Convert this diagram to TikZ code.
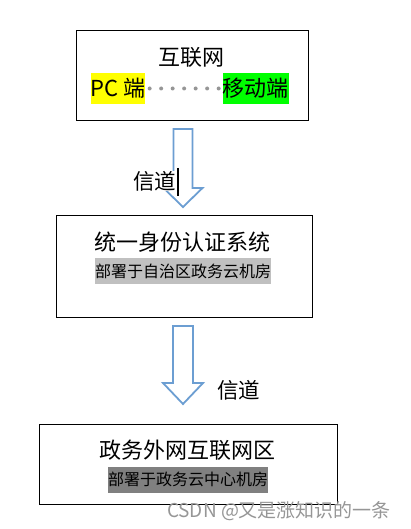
\documentclass[tikz,border=0pt]{standalone}
\usepackage{fontspec}
\setmainfont{Noto Sans CJK SC}
\usetikzlibrary{calc}
\definecolor{arrowblue}{RGB}{108,158,210}
\definecolor{hlgray}{RGB}{192,192,192}
\definecolor{hldark}{RGB}{128,128,128}
\definecolor{hlyellow}{RGB}{255,255,0}
\definecolor{hlgreen}{RGB}{0,255,0}
\definecolor{dotgray}{RGB}{150,150,150}
\definecolor{wmgray}{RGB}{150,150,150}
\begin{document}
\begin{tikzpicture}[x=1pt,y=-1pt,
  frame/.style={draw=black,line width=1pt,inner sep=0pt,fill=none},
  titletext/.style={font=\fontsize{22}{26}\selectfont,inner sep=0pt},
  hlsmall/.style={font=\fontsize{16}{19}\selectfont,inner xsep=0pt,inner ysep=0pt,minimum height=26pt},
  hlbig/.style={font=\fontsize{22}{26}\selectfont,inner xsep=0pt,inner ysep=0pt,minimum height=31pt},
  blockarrow/.style={draw=arrowblue,line width=1.8pt,fill=white,line join=miter},
  chanlabel/.style={font=\fontsize{21.5}{25}\selectfont,inner sep=0pt,fill=white},
  watermark/.style={font=\fontsize{19}{22}\selectfont,inner sep=0pt,text=wmgray},
  dotmark/.style={fill=dotgray}]
\useasboundingbox[fill=white] (0,0) rectangle (410,529);
% boxes
\node[frame,minimum width=232pt,minimum height=90pt] (net) at (192,76) {};
\node[frame,minimum width=256pt,minimum height=102pt] (auth) at (184,266) {};
\node[frame,minimum width=298pt,minimum height=80pt] (ext) at (188,464) {};
% box 1 content
\node[titletext] (nettitle) at (191,57) {互联网};
\node[hlbig,fill=hlyellow] (pc) at (118,88.5) {PC 端};
\node[hlbig,fill=hlgreen] (mob) at (255.5,88.5) {移动端};
\foreach \i in {0,...,6}
  \fill[dotmark] ($(pc.east)!{4pt+\i*11.5pt}!(mob.west)$) circle (2pt);
% box 2 content
\node[titletext] (authtitle) at (182,242) {统一身份认证系统};
\node[hlsmall,fill=hlgray] (authsub) at (183,271) {部署于自治区政务云机房};
% box 3 content
\node[titletext] (exttitle) at (187,450) {政务外网互联网区};
\node[hlsmall,fill=hldark] (extsub) at (188,479.5) {部署于政务云中心机房};
% arrows
\draw[blockarrow] (173.5,129) -- (192.5,129) -- (192.5,188) -- (202.5,188) -- (183,207) -- (163.5,188) -- (173.5,188) -- cycle;
\draw[blockarrow] (173,326) -- (193,326) -- (193,383) -- (203,383) -- (183,404) -- (163,383) -- (173,383) -- cycle;
% labels
\node[chanlabel] (ch1) at (154.5,181) {信道};
\coordinate (curtop) at (178,168);
\coordinate (curbot) at (178,196);
\draw[black,line width=1.6pt] (curtop) -- (curbot);
\node[chanlabel] (ch2) at (238.5,390) {信道};
% watermark
\node[watermark] (wm) at (279,511) {CSDN @又是涨知识的一条};
\end{tikzpicture}
\end{document}
